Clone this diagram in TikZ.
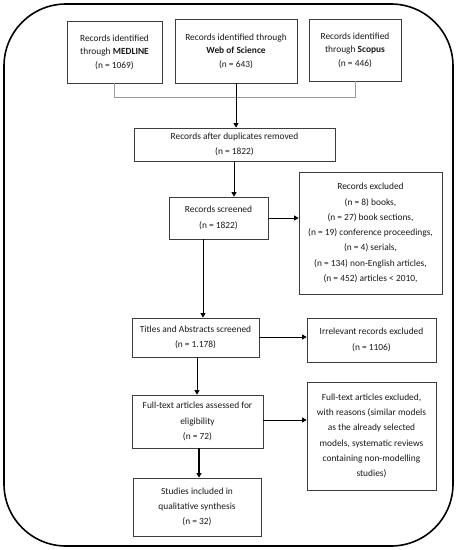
\documentclass[tikz,border=0pt]{standalone}
\usepackage{fontspec}
\setmainfont{Carlito}
\usetikzlibrary{arrows.meta}
\definecolor{boxcol}{HTML}{3C3C3C}
\definecolor{bracol}{HTML}{9A9A9A}
\begin{document}
\begin{tikzpicture}[x=1pt,y=-1pt,
  box/.style={draw=boxcol,line width=0.8pt,inner sep=0pt,align=center,
    font=\fontsize{9.4}{15.3}\selectfont,text=black!90},
  topbox/.style={box,font=\fontsize{9.4}{13.6}\selectfont},
  arr/.style={draw=black,line width=0.8pt,-{Triangle[length=4.5pt,width=5pt]}},
  frame/.style={draw=black,line width=1.6pt,rounded corners=62pt}]
\useasboundingbox (0,0) rectangle (457,550);
\path[frame] (4,4) rectangle (453,546);
\node[topbox,minimum width=95pt,minimum height=62pt] (med) at (114.5,52)
  {Records identified\\through \textbf{MEDLINE}\\(n = 1069)};
\node[topbox,minimum width=122pt,minimum height=64pt] (wos) at (236,51)
  {Records identified through\\\textbf{Web of Science}\\(n = 643)};
\node[topbox,minimum width=92pt,minimum height=62pt] (sco) at (355,50)
  {Records identified\\through \textbf{Scopus}\\(n = 446)};
\node[box,minimum width=201pt,minimum height=33pt] (dup) at (234.5,144.5)
  {Records after duplicates removed\\(n = 1822)};
\node[box,minimum width=99pt,minimum height=42pt] (scr) at (218.5,218)
  {Records screened\\(n = 1822)};
\node[box,minimum width=143pt,minimum height=122pt] (exc) at (370.5,233)
  {Records excluded\\(n = 8) books,\\(n = 27) book sections,\\(n = 19) conference proceedings,\\(n = 4) serials,\\(n = 134) non-English articles,\\(n = 452) articles < 2010,};
\node[box,minimum width=127pt,minimum height=39pt] (tit) at (195.5,337.5)
  {Titles and Abstracts screened\\(n = 1.178)};
\node[box,minimum width=129pt,minimum height=44pt] (irr) at (371.5,340)
  {Irrelevant records excluded\\(n = 1106)};
\node[box,minimum width=131pt,minimum height=53pt] (ful) at (197.5,421.5)
  {Full-text articles assessed for\\eligibility\\(n = 72)};
\node[box,minimum width=129pt,minimum height=108pt] (exc2) at (371.5,436)
  {Full-text articles excluded,\\with reasons (similar models\\as the already selected\\models, systematic reviews\\containing non-modelling\\studies)};
\node[box,minimum width=128pt,minimum height=58pt] (stu) at (197,507)
  {Studies included in\\qualitative synthesis\\(n = 32)};
\coordinate (b1) at (med.south |- 0,97);
\coordinate (b2) at (sco.south |- 0,97);
\draw[bracol,line width=0.8pt] (med.south) -- (b1) -- (b2) -- (sco.south);
\draw[arr] (wos.south) -- (wos.south |- dup.north);
\draw[arr] (dup.south -| 234,0) -- (scr.north -| 234,0);
\draw[arr] (scr.east) -- (exc.west |- scr.east);
\draw[arr] (scr.south -| 203,0) -- (tit.north -| 203,0);
\draw[arr] (tit.east |- 0,337) -- (irr.west |- 0,337);
\draw[arr] (tit.south -| 197,0) -- (ful.north -| 197,0);
\draw[arr] (ful.east |- 0,420) -- (exc2.west |- 0,420);
\draw[arr,line width=1.3pt] (ful.south -| 199,0) -- (stu.north -| 199,0);
\end{tikzpicture}
\end{document}
